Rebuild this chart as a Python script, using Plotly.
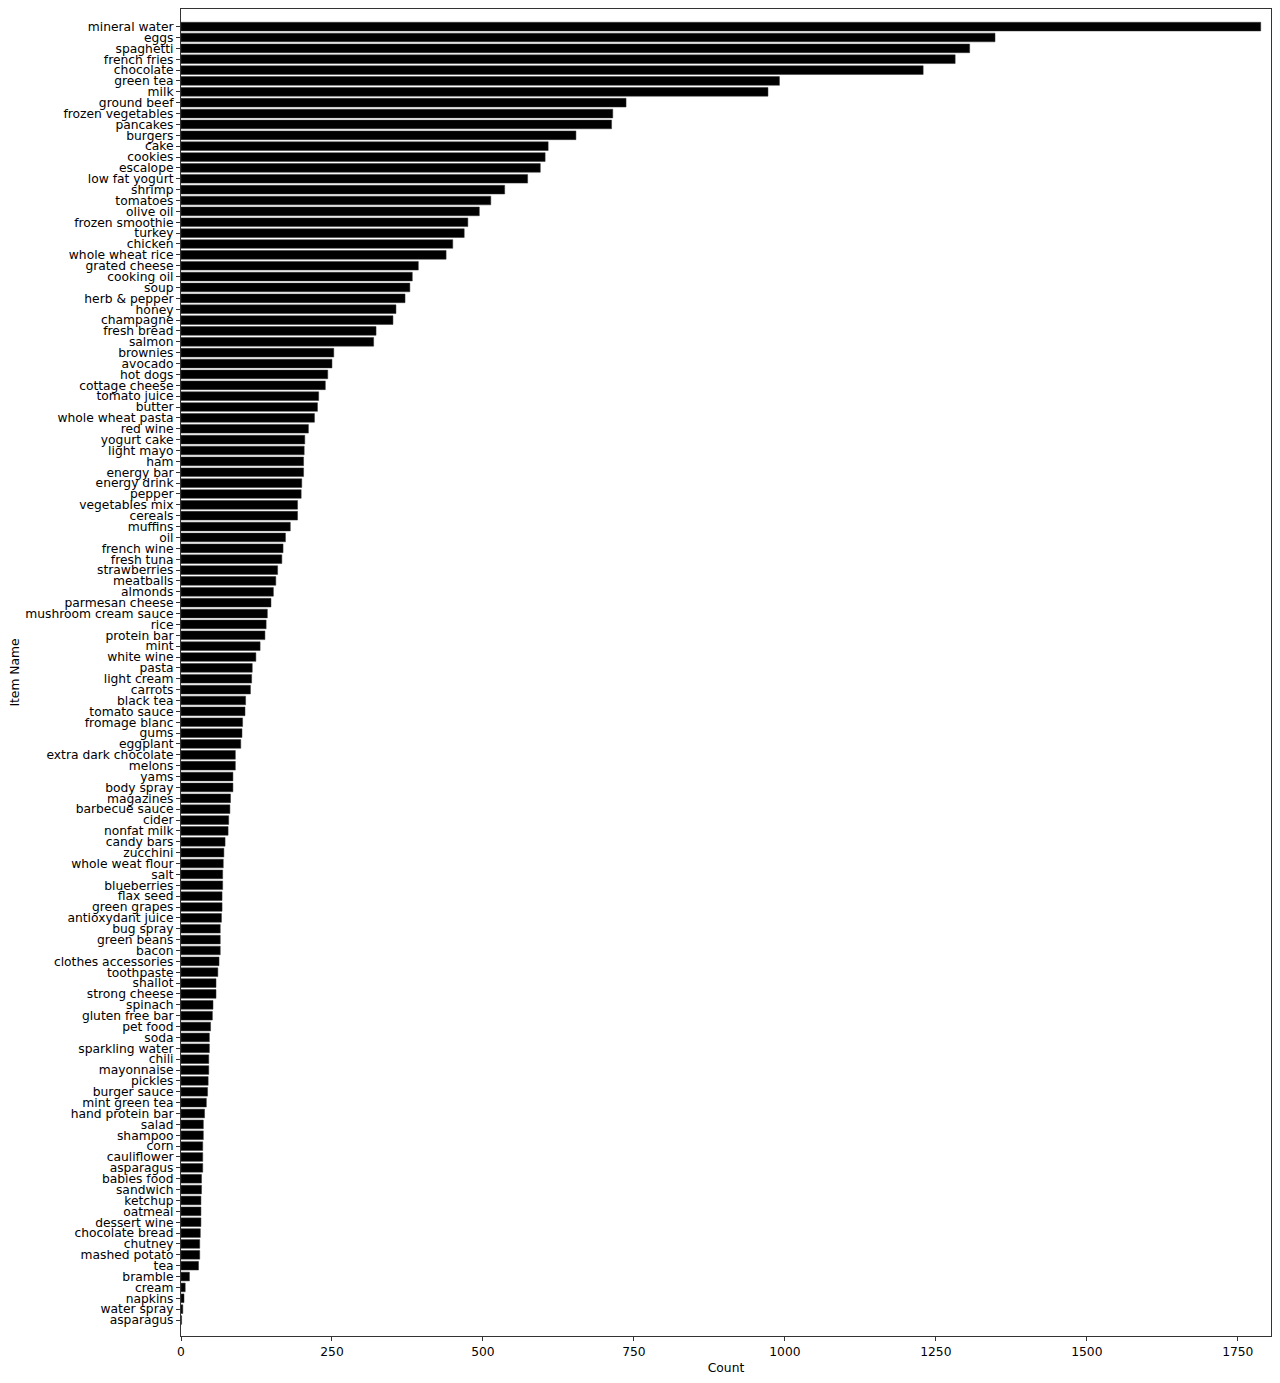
import plotly.graph_objects as go

items = ["mineral water", "eggs", "spaghetti", "french fries", "chocolate", "green tea", "milk",
         "ground beef", "frozen vegetables", "pancakes", "burgers", "cake", "cookies", "escalope",
         "low fat yogurt", "shrimp", "tomatoes", "olive oil", "frozen smoothie", "turkey", "chicken",
         "whole wheat rice", "grated cheese", "cooking oil", "soup", "herb & pepper", "honey",
         "champagne", "fresh bread", "salmon", "brownies", "avocado", "hot dogs", "cottage cheese",
         "tomato juice", "butter", "whole wheat pasta", "red wine", "yogurt cake", "light mayo", "ham",
         "energy bar", "energy drink", "pepper", "vegetables mix", "cereals", "muffins", "oil",
         "french wine", "fresh tuna", "strawberries", "meatballs", "almonds", "parmesan cheese",
         "mushroom cream sauce", "rice", "protein bar", "mint", "white wine", "pasta", "light cream",
         "carrots", "black tea", "tomato sauce", "fromage blanc", "gums", "eggplant",
         "extra dark chocolate", "melons", "yams", "body spray", "magazines", "barbecue sauce",
         "cider", "nonfat milk", "candy bars", "zucchini", "whole weat flour", "salt", "blueberries",
         "flax seed", "green grapes", "antioxydant juice", "bug spray", "green beans", "bacon",
         "clothes accessories", "toothpaste", "shallot", "strong cheese", "spinach", "gluten free bar",
         "pet food", "soda", "sparkling water", "chili", "mayonnaise", "pickles", "burger sauce",
         "mint green tea", "hand protein bar", "salad", "shampoo", "corn", "cauliflower", "asparagus",
         "babies food", "sandwich", "ketchup", "oatmeal", "dessert wine", "chocolate bread", "chutney",
         "mashed potato", "tea", "bramble", "cream", "napkins", "water spray", "asparagus"]

counts = [1788, 1348, 1306, 1282, 1229, 991, 972,
          737, 715, 713, 654, 608, 603, 595,
          574, 536, 513, 494, 475, 469, 450,
          439, 393, 383, 379, 371, 356,
          351, 323, 319, 253, 250, 243, 239,
          228, 226, 221, 211, 205, 204, 203,
          203, 200, 199, 193, 193, 181, 173,
          169, 167, 160, 157, 153, 149,
          143, 141, 139, 131, 124, 118, 117,
          115, 107, 106, 102, 101, 99,
          90, 90, 86, 86, 82, 81,
          79, 78, 73, 71, 70, 69, 69,
          68, 68, 67, 65, 65, 65,
          63, 61, 58, 58, 53, 52,
          49, 47, 47, 46, 46, 45, 44,
          42, 39, 37, 37, 36, 36, 36,
          34, 34, 33, 33, 33, 32, 31,
          31, 29, 14, 7, 5, 3, 1]

x_ticks = [0, 250, 500, 750, 1000, 1250, 1500, 1750]

positions = list(range(len(items)))

fig = go.Figure(go.Bar(
    x=counts,
    y=positions,
    orientation="h",
    width=0.8,
    marker=dict(color="black", line=dict(color="#333333", width=0.5)),
    hovertext=items,
))

font = dict(family="DejaVu Sans", size=12.3, color="black")
fig.update_layout(
    width=1272, height=1375,
    margin=dict(l=173, r=9, t=1, b=47),
    plot_bgcolor="white", paper_bgcolor="white",
    font=font,
    showlegend=False,
    bargap=0.2,
)
fig.update_xaxes(
    range=[0, 1805],
    tickvals=x_ticks,
    ticktext=[str(v) for v in x_ticks],
    ticks="outside", ticklen=4, tickcolor="#333333",
    showline=True, linecolor="#333333", linewidth=1, mirror=True,
    showgrid=False, zeroline=False, automargin=False,
    title=dict(text="Count", standoff=5, font=font),
)
fig.update_yaxes(
    range=[len(items) - 1 + 1.47, -1.62],
    tickvals=positions,
    ticktext=items,
    ticks="outside", ticklen=4, tickcolor="#333333",
    showline=True, linecolor="#333333", linewidth=1, mirror=True,
    showgrid=False, zeroline=False, automargin=False,
    title=dict(text="Item Name", standoff=3, font=font),
)

fig.write_html("out.html")
